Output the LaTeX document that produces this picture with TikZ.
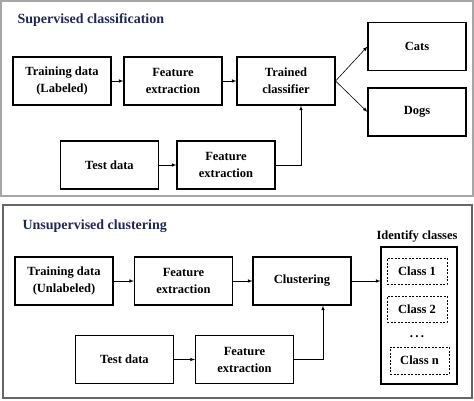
\documentclass[tikz,border=0pt]{standalone}
\usepackage{fontspec}
\setmainfont{Liberation Serif}
\usepackage{tikz}
\usetikzlibrary{arrows}
\usetikzlibrary{positioning}

\definecolor{titleblue}{RGB}{30,40,90}

\begin{document}
\begin{tikzpicture}[x=1pt,y=-1pt,
  blk/.style={draw,line width=1.1pt,minimum width=98pt,minimum height=48pt,align=center,
    font=\bfseries\fontsize{12.5}{17}\selectfont},
  cls/.style={draw,dashed,dash pattern=on 2pt off 1.5pt,line width=0.8pt,minimum width=60pt,minimum height=26pt,
    font=\bfseries\fontsize{12.5}{15}\selectfont},
  ttl/.style={anchor=west,text=titleblue,font=\bfseries\fontsize{14}{16}\selectfont},
  arr/.style={-latex,line width=0.6pt}]

  \useasboundingbox (0,0) rectangle (474,400);

  % panels
  \draw[gray!70,line width=1.5pt] (1,1) rectangle (473,196);
  \draw[gray!80!black,line width=1.5pt] (3,205) rectangle (472,398);

  % supervised classification
  \node[ttl] (supT) at (14,20) {Supervised classification};
  \node[blk] (trainL) at (62,81) {Training data\\(Labeled)};
  \node[blk] (featA) at (173,81) {Feature\\extraction};
  \node[blk] (classifier) at (286,81) {Trained\\classifier};
  \node[blk] (cats) at (417,46.5) {Cats};
  \node[blk] (dogs) at (417,112) {Dogs};
  \node[blk] (testA) at (109.5,165) {Test data};
  \node[blk] (featB) at (226,165) {Feature\\extraction};

  \draw[arr] (trainL) -- (featA);
  \draw[arr] (featA) -- (classifier);
  \draw[arr] (classifier.east) -- (cats.west);
  \draw[arr] (classifier.east) -- (dogs.west);
  \draw[arr] (testA) -- (featB);
  \draw[arr] (featB.east) -| ([xshift=15pt]classifier.south);

  % unsupervised clustering
  \node[ttl] (unsT) at (19,226) {Unsupervised clustering};
  \node[blk] (trainU) at (64,281) {Training data\\(Unlabeled)};
  \node[blk] (featC) at (183.5,281) {Feature\\extraction};
  \node[blk] (cluster) at (302,281) {Clustering};
  \node[blk] (testB) at (124.5,359.5) {Test data};
  \node[blk] (featD) at (244.5,359.5) {Feature\\extraction};

  \node[draw,line width=1.1pt,minimum width=76pt,minimum height=137pt] (classes) at (419,315.5) {};
  \node[font=\bfseries\fontsize{12.5}{15}\selectfont] (idT) at (417,236) {Identify classes};
  \node[cls] (class1) at (417,271) {Class 1};
  \node[cls] (class2) at (417,309) {Class 2};
  \node[font=\bfseries\fontsize{13}{15}\selectfont] (dots) at (417,337) {.\,.\,.};
  \node[cls,minimum width=59pt,minimum height=27pt] (classn) at (419.5,360.5) {Class n};

  \draw[arr] (trainU) -- (featC);
  \draw[arr] (featC) -- (cluster);
  \draw[arr] (cluster.east) -- (cluster.east -| classes.west);
  \draw[arr] (testB) -- (featD);
  \draw[arr] (featD.east) -| ([xshift=21pt]cluster.south);
\end{tikzpicture}
\end{document}
